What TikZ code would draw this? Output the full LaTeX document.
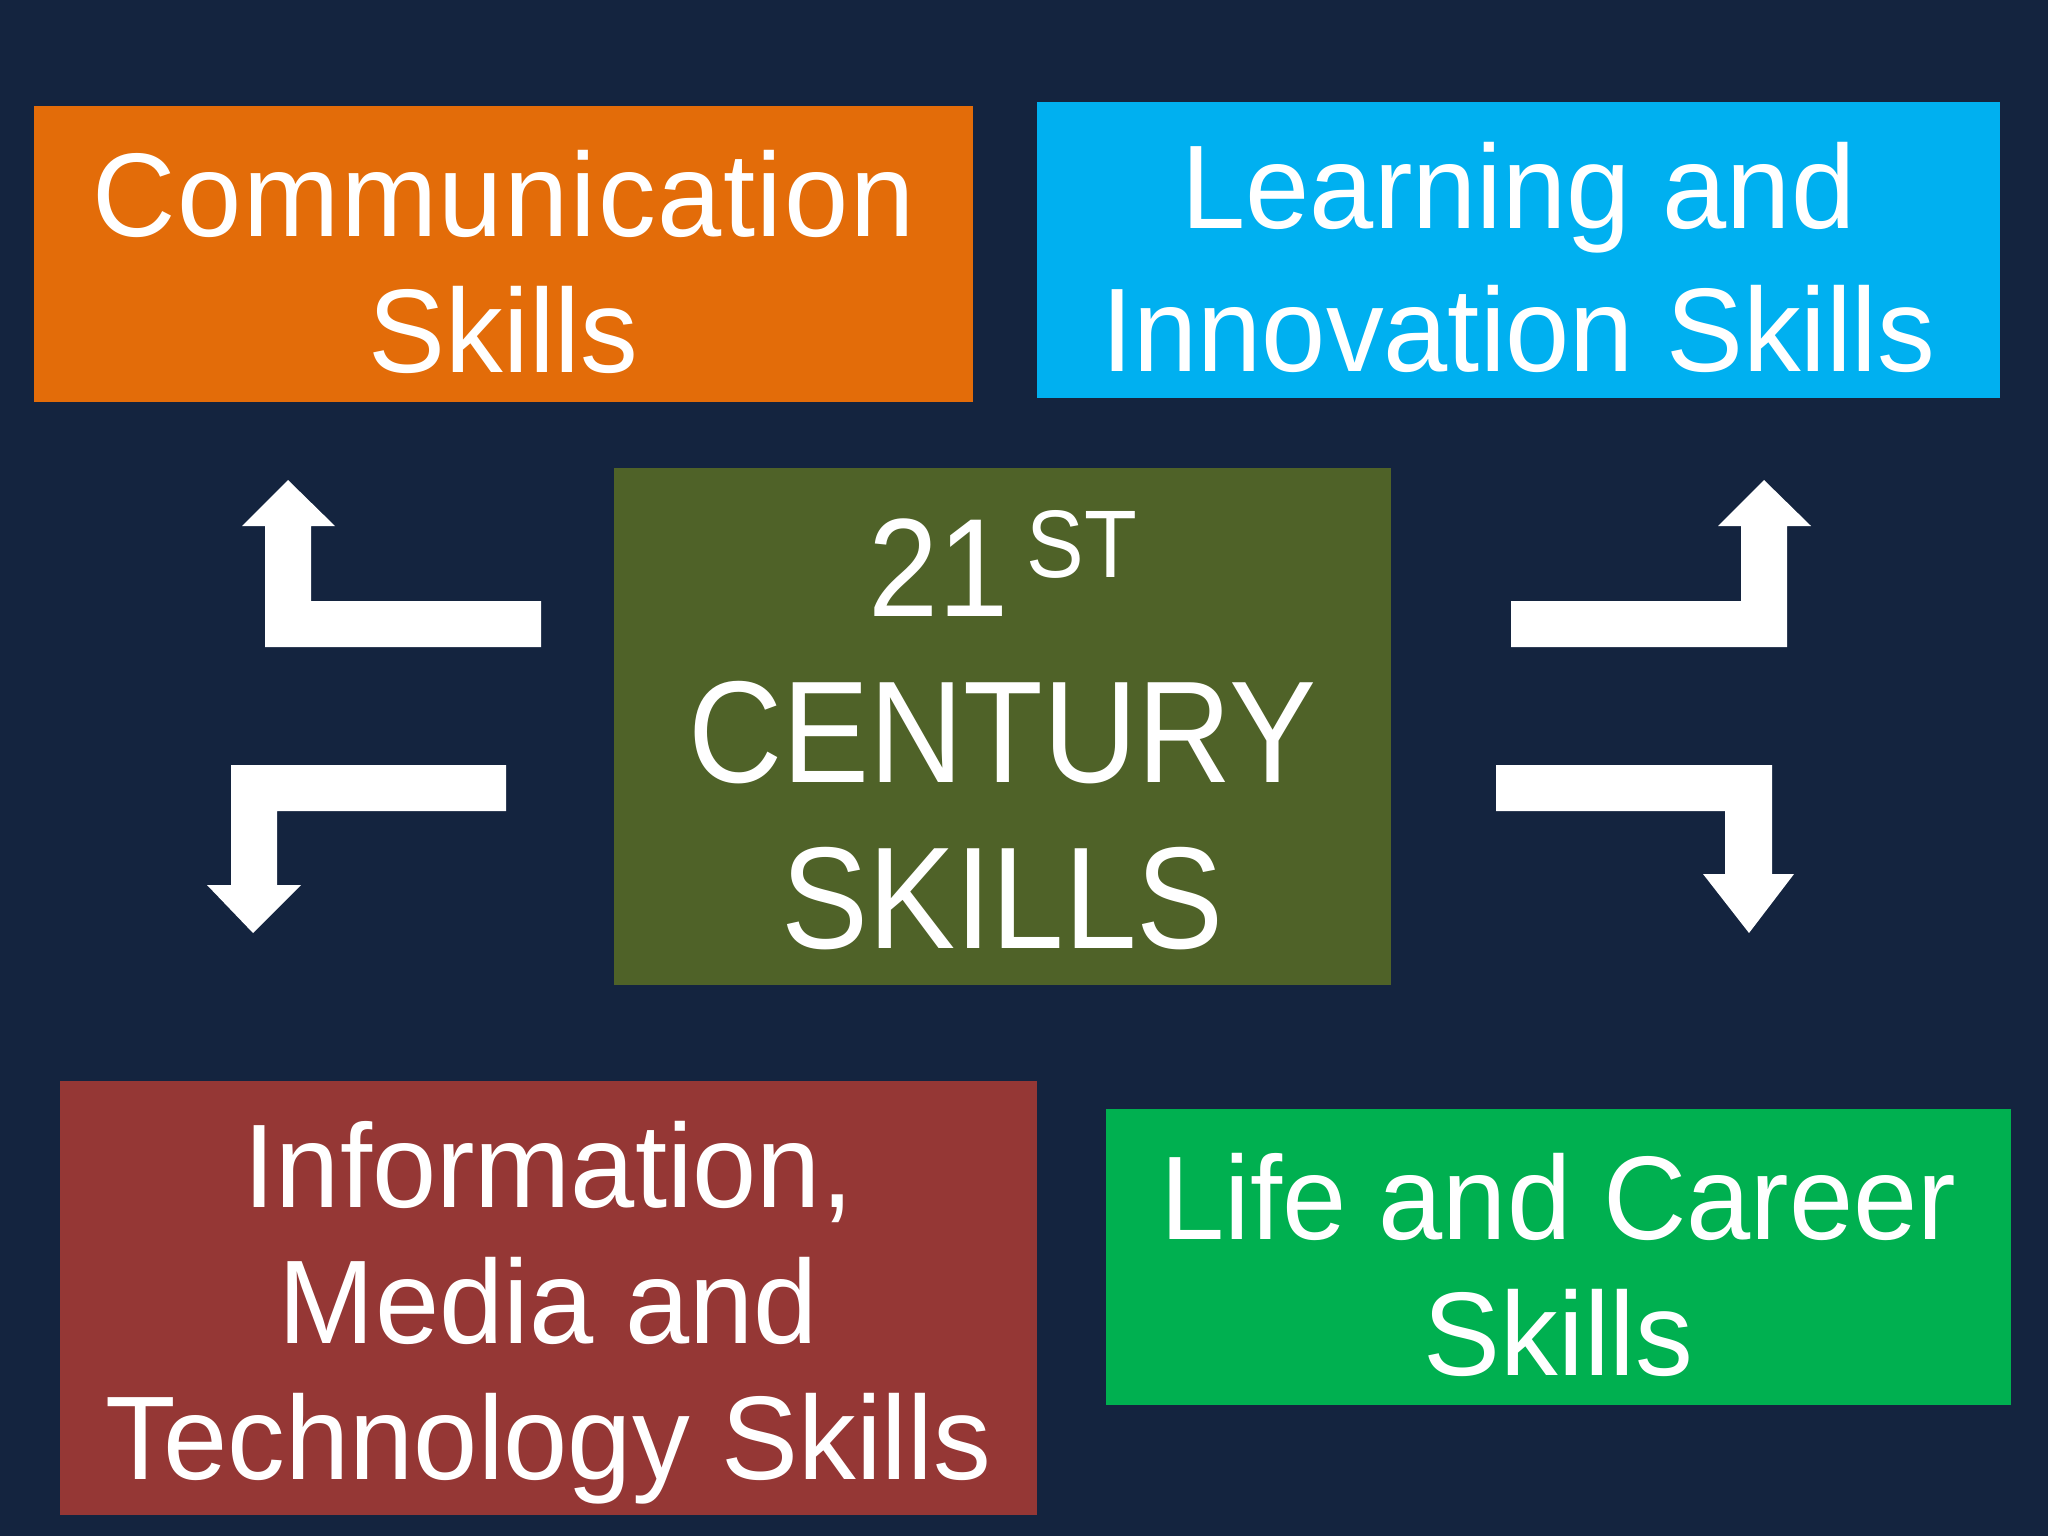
\documentclass[tikz,border=0pt]{standalone}
\usepackage{fontspec}
\newfontfamily\skillfont[FakeStretch=0.97]{Liberation Sans}
\newfontfamily\commfont[FakeStretch=0.97,LetterSpace=1.4]{Liberation Sans}
\newfontfamily\centfont[FakeStretch=0.9]{Liberation Sans}
\definecolor{bgnavy}{HTML}{14243F}
\definecolor{commorange}{HTML}{E36C09}
\definecolor{learnblue}{HTML}{00B0F0}
\definecolor{centolive}{HTML}{4F6228}
\definecolor{infored}{HTML}{953735}
\definecolor{lifegreen}{HTML}{00B050}
\newcommand\skstrut{\rule[-8pt]{0pt}{66pt}}
\newcommand\cnstrut{\rule[-13pt]{0pt}{82pt}}
\tikzset{skillbox/.style={fill=#1,text=white,align=center,inner sep=0pt,outer sep=0pt,
    font=\skillfont\fontsize{59.5pt}{68pt}\selectfont},
  bentarrow/.style={fill=white}}

\begin{document}
\begin{tikzpicture}[x=0.5pt,y=-0.5pt]
\fill[bgnavy] (0,0) rectangle (2048,1536);
\node[skillbox=commorange,minimum width=469.5pt,minimum height=148pt] (comm) at (503.5,254)
  {\skstrut{\commfont Communication}\\Skills\skstrut};
\node[skillbox=learnblue,minimum width=481.5pt,minimum height=148pt] (learn) at (1518.5,250)
  {\skstrut Learning and\\Innovation Skills\skstrut};
\node[skillbox=centolive,minimum width=388.5pt,minimum height=258.5pt,
  font=\centfont\fontsize{72.5pt}{83pt}\selectfont] (cent) at (1002.5,726.5)
  {\cnstrut{\fontsize{70pt}{83pt}\selectfont 21}\kern9pt\raisebox{19.5pt}{\fontsize{48pt}{50pt}\selectfont ST}\\CENTURY\\SKILLS\cnstrut};
\node[skillbox=infored,minimum width=488.5pt,minimum height=217pt] (info) at (548.5,1298)
  {\skstrut Information,\\Media and\\Technology Skills\skstrut};
\node[skillbox=lifegreen,minimum width=452.5pt,minimum height=148pt] (life) at (1558.5,1257)
  {\skstrut Life and Career\\Skills\skstrut};
% bent arrows
\fill[bentarrow] (288,480) -- (335,526) -- (311,526) -- (311,601) -- (541,601) -- (541,647)
  -- (265,647) -- (265,526) -- (242,526) -- cycle;
\fill[bentarrow] (506,765) -- (231,765) -- (231,885) -- (207,885) -- (253,933) -- (301,885)
  -- (277,885) -- (277,811) -- (506,811) -- cycle;
\fill[bentarrow] (1764,480) -- (1811,526) -- (1787,526) -- (1787,647) -- (1511,647) -- (1511,601)
  -- (1741,601) -- (1741,526) -- (1718,526) -- cycle;
\fill[bentarrow] (1496,765) -- (1772,765) -- (1772,874) -- (1794,874) -- (1749,933) -- (1703,874)
  -- (1725,874) -- (1725,811) -- (1496,811) -- cycle;
\end{tikzpicture}
\end{document}
